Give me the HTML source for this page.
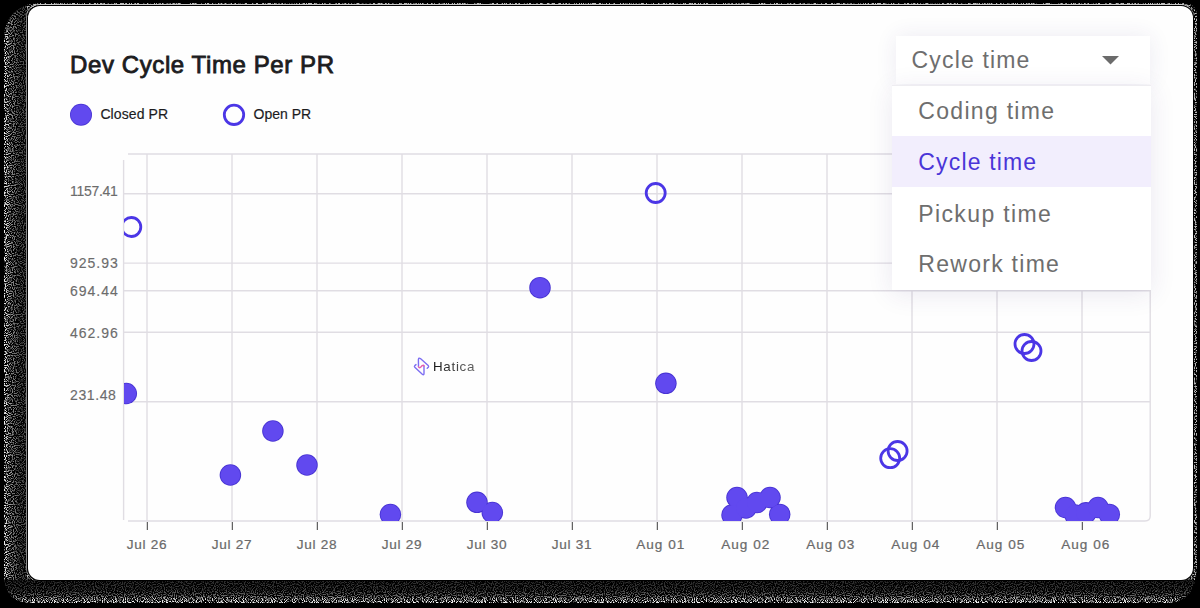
<!DOCTYPE html>
<html>
<head>
<meta charset="utf-8">
<style>
html,body{margin:0;padding:0;}
body{width:1200px;height:608px;overflow:hidden;background:#000;position:relative;font-family:"Liberation Sans",sans-serif;}
.rim{position:absolute;left:26px;top:4px;width:1168px;height:577px;border-radius:13px;box-sizing:border-box;border-top:1px solid #c8c8c8;border-right:1px solid #8a8a8a;border-left:1px solid #8a8a8a;}
.card{position:absolute;left:28px;top:6px;width:1165px;height:574px;border-radius:12px;background:#fefefe;box-shadow:0 0 0 1px #000;}
.t{position:absolute;white-space:nowrap;line-height:1;}
svg{position:absolute;left:0;top:0;}
svg.bg{left:0;top:0;}
.ylab{left:70px;font-size:14px;color:#6c6c6c;-webkit-text-stroke:0.15px #6c6c6c;}
.xlab{top:537.7px;width:80px;text-align:center;font-size:13.6px;letter-spacing:0.7px;color:#6a6a6a;-webkit-text-stroke:0.22px #6a6a6a;}
.sel{position:absolute;left:896px;top:36px;width:254px;height:48px;background:#fff;box-shadow:0 0 22px rgba(60,40,120,0.09);}
.menu{position:absolute;left:892px;top:85px;width:259px;height:205px;background:#fff;box-shadow:0 4px 24px rgba(60,40,120,0.10);border-top:1px solid #eeedf1;box-sizing:border-box;}
.hl{position:absolute;left:0;top:50px;width:259px;height:51px;background:#f2eefd;}
.mi{left:918.3px;font-size:23px;color:#6e6e6e;}
</style>
</head>
<body>
<svg class="bg" width="1200" height="608" viewBox="0 0 1200 608">
  <defs>
    <filter id="speck" color-interpolation-filters="sRGB" x="0" y="0" width="1200" height="608" filterUnits="userSpaceOnUse">
      <feTurbulence type="fractalNoise" baseFrequency="0.9" numOctaves="1" seed="5" result="noise"/>
      <feColorMatrix in="noise" type="matrix" values="0 0 0 0 0  0 0 0 0 0  0 0 0 0 0  1 0 0 0 0" result="a"/>
      <feComponentTransfer in="a" result="m"><feFuncA type="linear" slope="6" intercept="-2.75"/></feComponentTransfer>
      <feComposite in="SourceGraphic" in2="m" operator="in"/>
    </filter>
    <linearGradient id="gl" x1="4" y1="0" x2="27" y2="0" gradientUnits="userSpaceOnUse">
      <stop offset="0" stop-color="#f4f4f4"/>
      <stop offset="0.15" stop-color="#d0d0d0"/>
      <stop offset="0.3" stop-color="#909090"/>
      <stop offset="0.6" stop-color="#606060"/>
      <stop offset="1" stop-color="#444"/>
    </linearGradient>
    <linearGradient id="gb" x1="0" y1="603" x2="0" y2="580" gradientUnits="userSpaceOnUse">
      <stop offset="0" stop-color="#fff"/>
      <stop offset="0.18" stop-color="#d8d8d8"/>
      <stop offset="0.3" stop-color="#686868"/>
      <stop offset="0.6" stop-color="#3c3c3c"/>
      <stop offset="1" stop-color="#2a2a2a"/>
    </linearGradient>
    <clipPath id="outer"><path d="M38 3 H1183 Q1197 3 1197 17 V566 Q1197 603 1166 603 H32 Q4 603 4 575 V37 Q6 6 38 3 Z"/></clipPath>
  </defs>
  <rect x="0" y="0" width="1200" height="608" fill="#000"/>
  <g clip-path="url(#outer)" filter="url(#speck)">
    <rect x="0" y="0" width="1200" height="608" fill="#bbb"/>
    <rect x="0" y="0" width="27" height="608" fill="url(#gl)"/>
    <rect x="0" y="580" width="1200" height="28" fill="url(#gb)"/>
  </g>
</svg>
<div class="rim"></div>
<div class="card"></div>

<div class="t" id="title" style="left:70px;top:52.7px;font-size:24px;color:#1c1c1e;-webkit-text-stroke:0.85px #1c1c1e;letter-spacing:0.6px;">Dev Cycle Time Per PR</div>

<svg width="1200" height="608" viewBox="0 0 1200 608">
  <defs>
    <clipPath id="plot"><rect x="124" y="154" width="1026.2" height="367" rx="4"/></clipPath>
  </defs>
  <!-- legend -->
  <circle cx="81" cy="114.8" r="11" fill="#4733d2"/><circle cx="81" cy="114.8" r="10.3" fill="#6149ef"/>
  <circle cx="234" cy="114.8" r="9.7" fill="none" stroke="#4b36e6" stroke-width="2.8"/>
  <!-- grid -->
  <g stroke="#e0dde3" stroke-width="1.4" fill="none">
    <line x1="124" y1="193.7" x2="1150" y2="193.7"/>
    <line x1="124" y1="263.1" x2="1150" y2="263.1"/>
    <line x1="124" y1="290.8" x2="1150" y2="290.8"/>
    <line x1="124" y1="332.3" x2="1150" y2="332.3"/>
    <line x1="124" y1="401.8" x2="1150" y2="401.8"/>
    <line x1="147" y1="154" x2="147" y2="521"/>
    <line x1="232" y1="154" x2="232" y2="521"/>
    <line x1="317" y1="154" x2="317" y2="521"/>
    <line x1="402" y1="154" x2="402" y2="521"/>
    <line x1="487" y1="154" x2="487" y2="521"/>
    <line x1="572" y1="154" x2="572" y2="521"/>
    <line x1="657" y1="154" x2="657" y2="521"/>
    <line x1="742" y1="154" x2="742" y2="521"/>
    <line x1="827" y1="154" x2="827" y2="521"/>
    <line x1="912" y1="154" x2="912" y2="521"/>
    <line x1="997" y1="154" x2="997" y2="521"/>
    <line x1="1082" y1="154" x2="1082" y2="521"/>
    <path d="M123.6 160 V520 M128 521 H1145 Q1150.2 521 1150.2 516 V159 Q1150.2 154 1145 154 H128"/>
  </g>
  <!-- ticks -->
  <g stroke="#3c3c3c" stroke-width="1">
    <line x1="147.3" y1="522" x2="147.3" y2="530"/>
    <line x1="232.3" y1="522" x2="232.3" y2="530"/>
    <line x1="317.3" y1="522" x2="317.3" y2="530"/>
    <line x1="402.3" y1="522" x2="402.3" y2="530"/>
    <line x1="487.3" y1="522" x2="487.3" y2="530"/>
    <line x1="572.3" y1="522" x2="572.3" y2="530"/>
    <line x1="657.3" y1="522" x2="657.3" y2="530"/>
    <line x1="742.3" y1="522" x2="742.3" y2="530"/>
    <line x1="827.3" y1="522" x2="827.3" y2="530"/>
    <line x1="912.3" y1="522" x2="912.3" y2="530"/>
    <line x1="997.3" y1="522" x2="997.3" y2="530"/>
    <line x1="1082.3" y1="522" x2="1082.3" y2="530"/>
  </g>
  <!-- points -->
  <g clip-path="url(#plot)">
    <g fill="#4733d2"><circle cx="126.3" cy="393.5" r="10.75"/><circle cx="230.4" cy="475" r="10.75"/><circle cx="272.9" cy="431" r="10.75"/><circle cx="307" cy="465" r="10.75"/><circle cx="390.4" cy="514.5" r="10.75"/><circle cx="477" cy="502.3" r="10.75"/><circle cx="492.3" cy="512.5" r="10.75"/><circle cx="540" cy="287.7" r="10.75"/><circle cx="665.9" cy="383.3" r="10.75"/><circle cx="737" cy="497.5" r="10.75"/><circle cx="732" cy="515" r="10.75"/><circle cx="746" cy="508" r="10.75"/><circle cx="757" cy="502.5" r="10.75"/><circle cx="770" cy="497.5" r="10.75"/><circle cx="779.7" cy="514.4" r="10.75"/><circle cx="1065.5" cy="507.5" r="10.75"/><circle cx="1075" cy="515" r="10.75"/><circle cx="1086" cy="512.8" r="10.75"/><circle cx="1098" cy="507.5" r="10.75"/><circle cx="1109.3" cy="514.4" r="10.75"/></g>
    <g fill="#6149ef"><circle cx="126.3" cy="393.5" r="9.9"/><circle cx="230.4" cy="475" r="9.9"/><circle cx="272.9" cy="431" r="9.9"/><circle cx="307" cy="465" r="9.9"/><circle cx="390.4" cy="514.5" r="9.9"/><circle cx="477" cy="502.3" r="9.9"/><circle cx="492.3" cy="512.5" r="9.9"/><circle cx="540" cy="287.7" r="9.9"/><circle cx="665.9" cy="383.3" r="9.9"/><circle cx="737" cy="497.5" r="9.9"/><circle cx="732" cy="515" r="9.9"/><circle cx="746" cy="508" r="9.9"/><circle cx="757" cy="502.5" r="9.9"/><circle cx="770" cy="497.5" r="9.9"/><circle cx="779.7" cy="514.4" r="9.9"/><circle cx="1065.5" cy="507.5" r="9.9"/><circle cx="1075" cy="515" r="9.9"/><circle cx="1086" cy="512.8" r="9.9"/><circle cx="1098" cy="507.5" r="9.9"/><circle cx="1109.3" cy="514.4" r="9.9"/></g>
    <g fill="none" stroke="#4b36e6" stroke-width="2.8">
      <circle cx="131.3" cy="227" r="9.5"/>
      <circle cx="655.7" cy="193" r="9.5"/>
      <circle cx="890.2" cy="458.2" r="9.5"/>
      <circle cx="897.6" cy="451" r="9.5"/>
      <circle cx="1024.5" cy="344" r="9.5"/>
      <circle cx="1031.5" cy="351" r="9.5"/>
    </g>
  </g>
</svg>

<div class="t" style="left:100.4px;top:107.3px;font-size:14px;color:#1c1c1e;-webkit-text-stroke:0.18px #1c1c1e;letter-spacing:0.1px;">Closed PR</div>
<div class="t" style="left:253.6px;top:107.3px;font-size:14px;color:#1c1c1e;-webkit-text-stroke:0.18px #1c1c1e;letter-spacing:0px;">Open PR</div>

<!-- y labels -->
<div class="t ylab" style="top:184.1px;letter-spacing:-0.3px;">1157.41</div>
<div class="t ylab" style="top:255.6px;letter-spacing:1px;">925.93</div>
<div class="t ylab" style="top:284.4px;letter-spacing:1px;">694.44</div>
<div class="t ylab" style="top:326.2px;letter-spacing:1px;">462.96</div>
<div class="t ylab" style="top:388.2px;letter-spacing:0.6px;">231.48</div>

<!-- x labels -->
<div class="t xlab" style="left:107px;">Jul 26</div>
<div class="t xlab" style="left:192px;">Jul 27</div>
<div class="t xlab" style="left:277px;">Jul 28</div>
<div class="t xlab" style="left:362px;">Jul 29</div>
<div class="t xlab" style="left:447px;">Jul 30</div>
<div class="t xlab" style="left:532px;">Jul 31</div>
<div class="t xlab" style="left:620.75px;letter-spacing:1px;">Aug 01</div>
<div class="t xlab" style="left:705.75px;letter-spacing:1px;">Aug 02</div>
<div class="t xlab" style="left:790.75px;letter-spacing:1px;">Aug 03</div>
<div class="t xlab" style="left:875.75px;letter-spacing:1px;">Aug 04</div>
<div class="t xlab" style="left:960.75px;letter-spacing:1px;">Aug 05</div>
<div class="t xlab" style="left:1045.75px;letter-spacing:1px;">Aug 06</div>

<!-- watermark -->
<svg style="left:408px;top:352px;" width="28" height="28" viewBox="0 0 28 28">
  <g fill="none" stroke-linecap="round" stroke-linejoin="round" stroke-width="1.4">
    <path d="M19.2 16.3 L20.3 15.3 Q21 14.4 20.2 13.6 L12.4 6.6 Q10.6 5.4 10.4 7.6 L10.5 14.6" stroke="#7d6ef2"/>
    <path d="M8 12.6 L6.8 13.6 Q6 14.5 6.8 15.3 L14.3 22.3 Q15.9 23.6 16 21.4 L16 14" stroke="#7d6ef2"/>
    <path d="M10.5 14.6 Q11 16.4 12.6 15.2 L14.2 13.6 Q15.9 12.6 16 14" stroke="#e45fae"/>
  </g>
</svg>
<div class="t" style="left:433px;top:360.2px;font-size:13.4px;letter-spacing:0.7px;color:#555;background:linear-gradient(to right,#161616 0%,#2a2a2a 30%,#555 70%,#5e5e5e 100%);-webkit-background-clip:text;background-clip:text;-webkit-text-fill-color:transparent;padding-right:2px;">Hatica</div>

<!-- dropdown -->
<div class="sel"></div>
<div class="t" style="left:911.6px;top:49px;font-size:23px;letter-spacing:1.16px;color:#6e6e6e;">Cycle time</div>
<svg style="left:1101px;top:55px;" width="19" height="10" viewBox="0 0 19 10"><path d="M1 1 L18 1 L9.5 9.5 Z" fill="#6b6b6b"/></svg>
<div class="menu">
  <div class="hl"></div>
</div>
<div class="t mi" style="top:100.2px;letter-spacing:1.3px;">Coding time</div>
<div class="t mi" style="top:151.4px;letter-spacing:1.16px;color:#4a35d8;">Cycle time</div>
<div class="t mi" style="top:202.5px;letter-spacing:1.37px;">Pickup time</div>
<div class="t mi" style="top:253.4px;letter-spacing:1.28px;">Rework time</div>
</body>
</html>
